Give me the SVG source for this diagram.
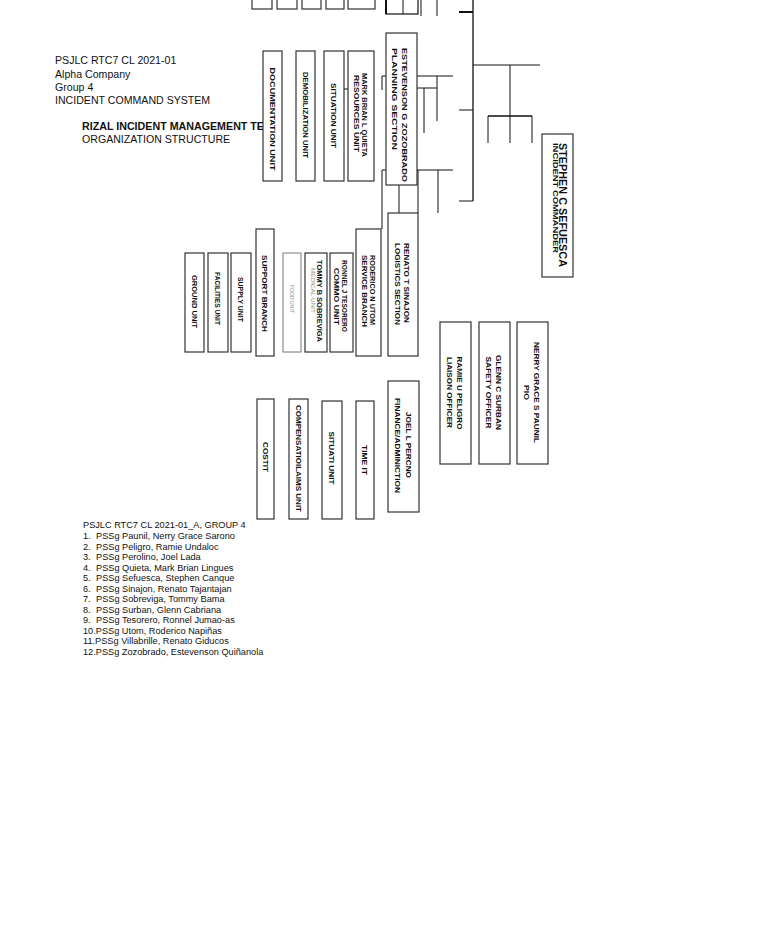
<svg xmlns="http://www.w3.org/2000/svg" width="768" height="932" viewBox="0 0 768 932">
<style>
.bg{fill:#fff}
.b{fill:#fff;stroke:#333;stroke-width:1.2}
.bl{fill:#fff;stroke:#777;stroke-width:1}
.c line{stroke:#111;stroke-width:1}
.t{font-family:"Liberation Sans",Arial,sans-serif;font-weight:bold;font-size:7.5px;text-anchor:middle;fill:#111}
.tb{font-family:"Liberation Sans",Arial,sans-serif;font-weight:bold;font-size:10px;text-anchor:middle;fill:#111}
.ts{font-family:"Liberation Sans",Arial,sans-serif;font-size:5px;text-anchor:middle;fill:#888}
.h{font-family:"Liberation Sans",Arial,sans-serif;font-size:10.6px;fill:#111}
.hb{font-family:"Liberation Sans",Arial,sans-serif;font-size:11px;font-weight:bold;fill:#111}
.l{font-family:"Liberation Sans",Arial,sans-serif;font-size:9.2px;fill:#111}
</style>
<rect class="bg" x="0" y="0" width="768" height="932"/>

<g id="header">
<text class="h" x="55" y="64">PSJLC RTC7 CL 2021-01</text>
<text class="h" x="55" y="77.5">Alpha Company</text>
<text class="h" x="55" y="90.5">Group 4</text>
<text class="h" x="55" y="103.5">INCIDENT COMMAND SYSTEM</text>
<text class="hb" x="82" y="130" textLength="182" lengthAdjust="spacingAndGlyphs">RIZAL INCIDENT MANAGEMENT TE</text>
<text class="h" x="82" y="143">ORGANIZATION STRUCTURE</text>
</g>

<g id="connectors" class="c">
<line x1="473" y1="0" x2="473" y2="201" style="stroke-width:1.3"/>
<line x1="459" y1="12" x2="473" y2="12" style="stroke-width:2"/>
<line x1="459" y1="110" x2="473" y2="110"/>
<line x1="459" y1="201" x2="473" y2="201"/>
<line x1="473" y1="65" x2="540" y2="65"/>
<line x1="510" y1="65" x2="510" y2="143"/>
<line x1="488" y1="116" x2="532" y2="116" style="stroke-width:1.5"/>
<line x1="488" y1="116" x2="488" y2="143"/>
<line x1="532" y1="116" x2="532" y2="143"/>
<line x1="417" y1="76" x2="453" y2="76"/>
<line x1="437" y1="76" x2="437" y2="121"/>
<line x1="417" y1="88" x2="437" y2="88"/>
<line x1="424" y1="88" x2="424" y2="133"/>
<line x1="382" y1="76" x2="387" y2="76"/>
<line x1="382" y1="76" x2="382" y2="90"/>
<line x1="344" y1="89" x2="348" y2="89"/>
<line x1="382" y1="170" x2="453" y2="170"/>
<line x1="382" y1="170" x2="382" y2="229"/>
<line x1="399" y1="170" x2="399" y2="213"/>
<line x1="418" y1="170" x2="418" y2="213"/>
<line x1="438" y1="170" x2="438" y2="213"/>
<line x1="403" y1="0" x2="403" y2="14"/>
<line x1="421" y1="0" x2="421" y2="16"/>
<line x1="437" y1="0" x2="437" y2="16"/>
</g>

<g id="top-partial">
<rect class="b" x="252" y="-3" width="20" height="12"/>
<rect class="b" x="277" y="-3" width="20" height="12"/>
<rect class="b" x="302" y="-3" width="19" height="12"/>
<rect class="b" x="326" y="-3" width="18" height="12"/>
<rect class="b" x="348" y="-3" width="27" height="12"/>
<rect x="386" y="-3" width="32" height="17" fill="none" stroke="#111" stroke-width="1.2"/>
<line x1="386" y1="0" x2="386" y2="14" stroke="#111" stroke-width="2"/>
</g>

<g id="documentation">
<rect class="b" x="263" y="51" width="19" height="130"/>
<text class="t" transform="translate(269.8,119) rotate(90)" textLength="103" lengthAdjust="spacingAndGlyphs">DOCUMENTATION UNIT</text>
</g>
<g id="demobilization">
<rect class="b" x="296" y="51" width="19" height="130"/>
<text class="t" transform="translate(302.8,115) rotate(90)" textLength="86" lengthAdjust="spacingAndGlyphs">DEMOBILIZATION UNIT</text>
</g>
<g id="situation">
<rect class="b" x="324" y="51" width="20" height="130"/>
<text class="t" transform="translate(331.3,115.5) rotate(90)" textLength="65" lengthAdjust="spacingAndGlyphs">SITUATION UNIT</text>
</g>
<g id="resources">
<rect class="b" x="348" y="51" width="26" height="130"/>
<text class="t" transform="translate(362.3,115) rotate(90)" textLength="84" lengthAdjust="spacingAndGlyphs">MARK BRIAN L QUIETA</text>
<text class="t" transform="translate(354.3,113.5) rotate(90)" textLength="77" lengthAdjust="spacingAndGlyphs">RESOURCES UNIT</text>
</g>
<g id="planning">
<rect class="b" x="386" y="33" width="31" height="152"/>
<text class="t" transform="translate(402.3,115) rotate(90)" textLength="134" lengthAdjust="spacingAndGlyphs">ESTEVENSON G ZOZOBRADO</text>
<text class="t" transform="translate(392.3,99) rotate(90)" textLength="102" lengthAdjust="spacingAndGlyphs">PLANNING SECTION</text>
</g>
<g id="commander">
<rect class="b" x="542" y="134" width="31" height="143"/>
<text class="tb" transform="translate(559.4,205) rotate(90)" textLength="124" lengthAdjust="spacingAndGlyphs">STEPHEN C SEFUESCA</text>
<text class="t" transform="translate(552.6,198) rotate(90)" style="font-size:7px" textLength="110" lengthAdjust="spacingAndGlyphs">INCIDENT COMMANDER</text>
</g>
<g id="logistics">
<rect class="b" x="388" y="213" width="30" height="143"/>
<text class="t" transform="translate(404.3,283) rotate(90)" textLength="80" lengthAdjust="spacingAndGlyphs">RENATO T SINAJON</text>
<text class="t" transform="translate(395.3,284) rotate(90)" textLength="82" lengthAdjust="spacingAndGlyphs">LOGISTICS SECTION</text>
</g>
<g id="service-branch">
<rect class="b" x="356" y="229" width="25" height="127"/>
<text class="t" transform="translate(370.3,290) rotate(90)" textLength="70" lengthAdjust="spacingAndGlyphs">RODERICO N UTOM</text>
<text class="t" transform="translate(362.3,291) rotate(90)" textLength="72" lengthAdjust="spacingAndGlyphs">SERVICE BRANCH</text>
</g>
<g id="commo">
<rect class="b" x="330" y="253" width="23" height="99"/>
<text class="t" transform="translate(342.3,296) rotate(90)" textLength="72" lengthAdjust="spacingAndGlyphs">RONNEL J TESORERO</text>
<text class="t" transform="translate(334.3,296.5) rotate(90)" textLength="57" lengthAdjust="spacingAndGlyphs">COMMO UNIT</text>
</g>
<g id="medical">
<rect class="b" x="305" y="253" width="22" height="99"/>
<text class="t" transform="translate(317.3,301) rotate(90)" textLength="82" lengthAdjust="spacingAndGlyphs">TOMMY B SOBREVIGA</text>
<text class="ts" transform="translate(310.7,290.5) rotate(90)" textLength="45" lengthAdjust="spacingAndGlyphs">MEDICAL UNIT</text>
</g>
<g id="food">
<rect class="bl" x="283" y="253" width="18" height="99"/>
<text class="ts" transform="translate(290.2,299) rotate(90)" textLength="28" lengthAdjust="spacingAndGlyphs">FOOD UNIT</text>
</g>
<g id="support-branch">
<rect class="b" x="256" y="229" width="18" height="127"/>
<text class="t" transform="translate(262.3,293.5) rotate(90)" textLength="77" lengthAdjust="spacingAndGlyphs">SUPPORT BRANCH</text>
</g>
<g id="supply">
<rect class="b" x="231" y="253" width="20" height="99"/>
<text class="t" transform="translate(238.3,299.5) rotate(90)" textLength="45" lengthAdjust="spacingAndGlyphs">SUPPLY UNIT</text>
</g>
<g id="facilities">
<rect class="b" x="208" y="253" width="20" height="99"/>
<text class="t" transform="translate(215.3,298.5) rotate(90)" textLength="53" lengthAdjust="spacingAndGlyphs">FACILITIES UNIT</text>
</g>
<g id="ground">
<rect class="b" x="185" y="253" width="19" height="99"/>
<text class="t" transform="translate(191.8,301.5) rotate(90)" textLength="53" lengthAdjust="spacingAndGlyphs">GROUND UNIT</text>
</g>
<g id="costit">
<rect class="b" x="257" y="399" width="17" height="120"/>
<text class="t" transform="translate(262.8,457) rotate(90)" textLength="30" lengthAdjust="spacingAndGlyphs">COSTIT</text>
</g>
<g id="compensation">
<rect class="b" x="289" y="399" width="19" height="120"/>
<text class="t" transform="translate(295.8,458.5) rotate(90)" textLength="107" lengthAdjust="spacingAndGlyphs">COMPENSATIOILAIMS UNIT</text>
</g>
<g id="situati">
<rect class="b" x="322" y="401" width="20" height="118"/>
<text class="t" transform="translate(329.3,458) rotate(90)" textLength="53" lengthAdjust="spacingAndGlyphs">SITUATI UNIT</text>
</g>
<g id="time">
<rect class="b" x="356" y="401" width="18" height="118"/>
<text class="t" transform="translate(362.3,460) rotate(90)" textLength="30" lengthAdjust="spacingAndGlyphs">TIME IT</text>
</g>
<g id="finance">
<rect class="b" x="388" y="381" width="31" height="131"/>
<text class="t" transform="translate(406.3,445) rotate(90)" textLength="66" lengthAdjust="spacingAndGlyphs">JOEL L PERCNO</text>
<text class="t" transform="translate(395.3,445.5) rotate(90)" textLength="95" lengthAdjust="spacingAndGlyphs">FINANCE/ADMINICTION</text>
</g>
<g id="liaison">
<rect class="b" x="440" y="322" width="31" height="142"/>
<text class="t" transform="translate(457.3,393) rotate(90)" textLength="73" lengthAdjust="spacingAndGlyphs">RAMIE U PELIGRO</text>
<text class="t" transform="translate(447.3,392.5) rotate(90)" textLength="71" lengthAdjust="spacingAndGlyphs">LIAISON OFFICER</text>
</g>
<g id="safety">
<rect class="b" x="479" y="322" width="31" height="142"/>
<text class="t" transform="translate(496.3,392.5) rotate(90)" textLength="75" lengthAdjust="spacingAndGlyphs">GLENN C SURBAN</text>
<text class="t" transform="translate(486.3,392.5) rotate(90)" textLength="72" lengthAdjust="spacingAndGlyphs">SAFETY OFFICER</text>
</g>
<g id="pio">
<rect class="b" x="517" y="322" width="31" height="142"/>
<text class="t" transform="translate(534.3,392.5) rotate(90)" textLength="101" lengthAdjust="spacingAndGlyphs">NERRY GRACE S PAUNIL</text>
<text class="t" transform="translate(524.3,392.5) rotate(90)" textLength="15" lengthAdjust="spacingAndGlyphs">PIO</text>
</g>

<g id="members">
<text class="l" x="83" y="528">PSJLC RTC7 CL 2021-01_A, GROUP 4</text>
<text class="l" x="83" y="539">1.</text><text class="l" x="96" y="539">PSSg Paunil, Nerry Grace Sarono</text>
<text class="l" x="83" y="549.5">2.</text><text class="l" x="96" y="549.5">PSSg Peligro, Ramie Undaloc</text>
<text class="l" x="83" y="560">3.</text><text class="l" x="96" y="560">PSSg Perolino, Joel Lada</text>
<text class="l" x="83" y="570.5">4.</text><text class="l" x="96" y="570.5">PSSg Quieta, Mark Brian Lingues</text>
<text class="l" x="83" y="581">5.</text><text class="l" x="96" y="581">PSSg Sefuesca, Stephen Canque</text>
<text class="l" x="83" y="591.5">6.</text><text class="l" x="96" y="591.5">PSSg Sinajon, Renato Tajantajan</text>
<text class="l" x="83" y="602">7.</text><text class="l" x="96" y="602">PSSg Sobreviga, Tommy Bama</text>
<text class="l" x="83" y="612.5">8.</text><text class="l" x="96" y="612.5">PSSg Surban, Glenn Cabriana</text>
<text class="l" x="83" y="623">9.</text><text class="l" x="96" y="623">PSSg Tesorero, Ronnel Jumao-as</text>
<text class="l" x="83" y="633.5">10.PSSg Utom, Roderico Napiñas</text>
<text class="l" x="83" y="644">11.PSSg Villabrille, Renato Giducos</text>
<text class="l" x="83" y="654.5">12.PSSg Zozobrado, Estevenson Quiñanola</text>
</g>
</svg>
